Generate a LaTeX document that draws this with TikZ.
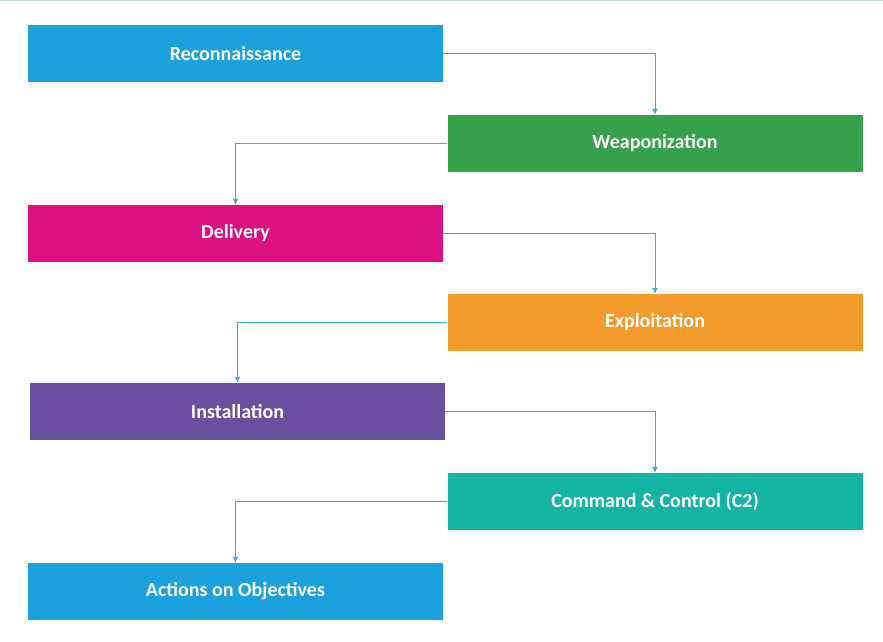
\documentclass[tikz,border=0pt]{standalone}
\usepackage{fontspec}
\setmainfont{Carlito}
\usepackage{tikz}
\usetikzlibrary{arrows.meta}

\definecolor{kcblue}{HTML}{1BA1DB}
\definecolor{kcgreen}{HTML}{35A14A}
\definecolor{kcpink}{HTML}{DB0F7F}
\definecolor{kcorange}{HTML}{F29A2A}
\definecolor{kcpurple}{HTML}{6A4F9E}
\definecolor{kcteal}{HTML}{13B3A6}
\definecolor{kcline}{HTML}{3AA9E0}

\begin{document}
\begin{tikzpicture}[x=1pt,y=-1pt,
            phase box/.style={rectangle,minimum width=415pt,minimum height=57pt,inner sep=0pt,
              text=white,font=\fontsize{20}{24}\selectfont\bfseries},
            link/.style={draw=kcline,line width=1pt,-{Latex[length=6pt,width=6pt]}}]
        \useasboundingbox (0,0) rectangle (883,642);
        \draw[color=teal!30,line width=1.5pt] (0,0.75) -- (883,0.75);

        \node[phase box, fill=kcblue] (R) at (235.5,53.5) {Reconnaissance};
        \node[phase box, fill=kcgreen] (W) at (655,143.5) {Weaponization};
        \node[phase box, fill=kcpink] (D) at (235.5,233.5) {Delivery};
        \node[phase box, fill=kcorange] (E) at (655,322.5) {Exploitation};
        \node[phase box, fill=kcpurple] (I) at (237.5,411.5) {Installation};
        \node[phase box, fill=kcteal] (C) at (655,501.5) {Command \& Control (C2)};
        \node[phase box, fill=kcblue] (A) at (235.5,591.5) {Actions on Objectives};

        \draw[link] (R.east) -| (W.north);
        \draw[link] (W.west) -| (D.north);
        \draw[link] (D.east) -| (E.north);
        \draw[link] (E.west) -| (I.north);
        \draw[link] (I.east) -| (C.north);
        \draw[link] (C.west) -| (A.north);

    \end{tikzpicture}
\end{document}
